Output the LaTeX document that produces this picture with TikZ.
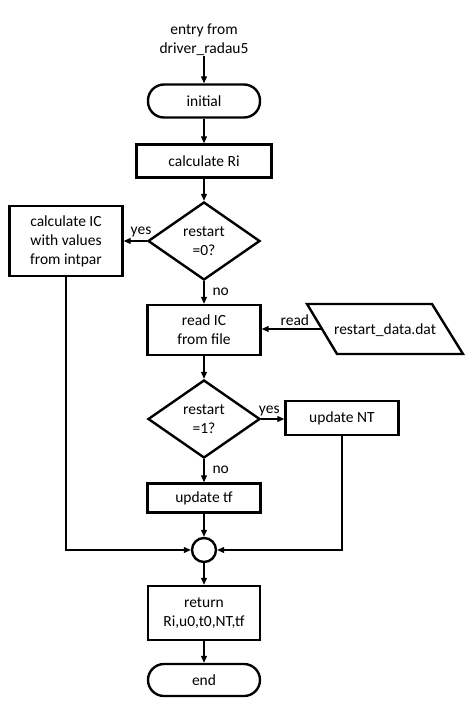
\documentclass[tikz,border=0pt]{standalone}
\usepackage{fontspec}
\setmainfont{Carlito}
\usetikzlibrary{shapes.geometric,arrows.meta}
\begin{document}
\begin{tikzpicture}[x=1pt,y=-1pt,
  every node/.style={font=\fontsize{15.5}{19}\selectfont, align=center, inner sep=0pt},
  box/.style={draw, line width=2.4pt, rectangle},
  term/.style={draw, line width=2.4pt, rectangle, rounded corners=16pt},
  dec/.style={draw, line width=2.4pt, diamond, minimum width=112pt, minimum height=78pt, shape aspect=1.44},
  conn/.style={line width=1.2pt, -{Triangle[length=7pt,width=6pt]}}
]
\useasboundingbox (0,0) rectangle (474,711);
\node (entry) at (204,40) {entry from\\driver\_radau5};
\node[term, minimum width=112pt, minimum height=33pt] (init) at (204,101) {initial};
\node[box, minimum width=135pt, minimum height=33pt] (ri) at (204,161) {calculate Ri};
\node[dec] (d1) at (204,241) {restart\\=0?};
\node[box, minimum width=113pt, minimum height=70pt] (ic) at (66,241) {calculate IC\\with values\\from intpar};
\node[box, minimum width=113pt, minimum height=50pt] (read) at (204,330) {read IC\\from file};
\draw[line width=2.4pt] (307,304) -- (432,304) -- (463,354) -- (337,354) -- cycle;
\node (data) at (385,330) {restart\_data.dat};
\coordinate (dataw) at (322,329);
\node[dec] (d2) at (204,419) {restart\\=1?};
\node[box, minimum width=113pt, minimum height=34pt] (nt) at (342,418) {update NT};
\node[box, minimum width=113pt, minimum height=29pt] (tf) at (204,498) {update tf};
\node[draw, circle, line width=2.4pt, minimum size=24pt] (m) at (204,550) {};
\node[box, minimum width=112pt, minimum height=54pt] (ret) at (204,613) {return\\Ri,u0,t0,NT,tf};
\node[term, minimum width=112pt, minimum height=32pt] (end) at (204,680) {end};

\draw[conn] (entry.south) -- (init.north);
\draw[conn] (init) -- (ri);
\draw[conn] (ri) -- (d1);
\draw[conn] (d1.west) -- node[above=3pt, pos=0.25] {yes} (ic.east);
\draw[conn] (d1.south) -- node[right=8pt, pos=0.45] {no} (read.north);
\draw[conn] (dataw) -- node[above=3pt, pos=0.45] {read} (read.east |- dataw);
\draw[conn] (read) -- (d2);
\draw[conn] (d2.east) -- node[above=2pt, pos=0.35] {yes} (nt.west |- d2.east);
\draw[conn] (d2.south) -- node[right=8pt, pos=0.45] {no} (tf.north);
\draw[conn] (tf) -- (m);
\draw[conn] (ic.south) |- (m.west);
\draw[conn] (nt.south) |- (m.east);
\draw[conn] (m) -- (ret);
\draw[conn] (ret) -- (end);
\end{tikzpicture}
\end{document}
